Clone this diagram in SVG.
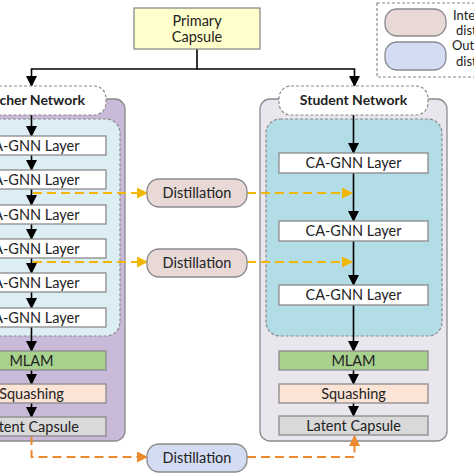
<svg xmlns="http://www.w3.org/2000/svg" width="474" height="474" viewBox="0 0 474 474">
<defs>
<marker id="ab" markerUnits="userSpaceOnUse" markerWidth="11" markerHeight="11" refX="10" refY="5.5" orient="auto"><path d="M0,0 L11,5.5 L0,11 z" fill="#000"/></marker>
<marker id="ay" markerUnits="userSpaceOnUse" markerWidth="11" markerHeight="11" refX="10" refY="5.5" orient="auto"><path d="M0,0 L11,5.5 L0,11 z" fill="#F2B705"/></marker>
<marker id="ao" markerUnits="userSpaceOnUse" markerWidth="11" markerHeight="11" refX="10" refY="5.5" orient="auto"><path d="M0,0 L11,5.5 L0,11 z" fill="#EC8A2E"/></marker>
</defs>
<style>
text{font-family:Lato,"Liberation Sans",sans-serif;font-size:14.5px;fill:#222;text-anchor:middle}
.hdr{font-weight:bold;font-size:14px}
.lg{text-anchor:start;font-size:13px}
.box{stroke:#8a8a8a;stroke-width:1.3}
.layer{fill:#fff;stroke:#8a8a8a;stroke-width:1.3}
.dash{stroke:#8a8a8a;stroke-width:1.2;stroke-dasharray:3 2}
.blk{fill:none;stroke:#000;stroke-width:1.6}
.yel{fill:none;stroke:#F2B705;stroke-width:2;stroke-dasharray:9 5}
.org{fill:none;stroke:#EC8A2E;stroke-width:2;stroke-dasharray:9 5}
</style>
<rect width="474" height="474" fill="#fff"/>

<g id="legend">
<rect x="377" y="3" width="120" height="74" fill="#fff" class="dash"/>
<rect x="385" y="9" width="61" height="27" rx="12" fill="#E8D9D7" class="box"/>
<rect x="385" y="42" width="61" height="28" rx="12" fill="#D3DCF3" class="box"/>
<text class="lg" x="453" y="20">Intermediate</text>
<text class="lg" x="456" y="35">distillation</text>
<text class="lg" x="452" y="50">Output</text>
<text class="lg" x="456" y="66">distillation</text>
</g>

<g id="teacher-outer"><rect x="-62" y="99" width="187" height="342" rx="10" fill="#C8BAD8" class="box"/></g>
<g id="teacher-inner"><rect x="-56" y="119" width="176" height="217" rx="14" fill="#DCEEF4" class="dash"/></g>
<g id="student-outer"><rect x="260" y="99" width="187" height="342" rx="10" fill="#EAE6EE" class="box"/></g>
<g id="student-inner"><rect x="266" y="119" width="176" height="217" rx="14" fill="#B2DCE6" class="dash"/></g>

<g id="connectors">
<path class="blk" d="M197,49 V69 H31.5 V86" marker-end="url(#ab)"/>
<path class="blk" d="M197,69 H354.5 V86" marker-end="url(#ab)"/>
<path class="blk" d="M31.5,115 V136" marker-end="url(#ab)"/>
<path class="blk" d="M31.5,155 V170" marker-end="url(#ab)"/>
<path class="blk" d="M31.5,189 V205" marker-end="url(#ab)"/>
<path class="blk" d="M31.5,224 V239" marker-end="url(#ab)"/>
<path class="blk" d="M31.5,258 V273" marker-end="url(#ab)"/>
<path class="blk" d="M31.5,292 V308" marker-end="url(#ab)"/>
<path class="blk" d="M31.5,327 V351" marker-end="url(#ab)"/>
<path class="blk" d="M31.5,370 V384" marker-end="url(#ab)"/>
<path class="blk" d="M31.5,403 V417" marker-end="url(#ab)"/>
<path class="blk" d="M353.5,115 V153" marker-end="url(#ab)"/>
<path class="blk" d="M353.5,173 V221" marker-end="url(#ab)"/>
<path class="blk" d="M353.5,241 V285" marker-end="url(#ab)"/>
<path class="blk" d="M353.5,305 V351" marker-end="url(#ab)"/>
<path class="blk" d="M353.5,370 V384" marker-end="url(#ab)"/>
<path class="blk" d="M353.5,403 V416" marker-end="url(#ab)"/>
<path class="yel" d="M33,193 H147" marker-end="url(#ay)"/>
<path class="yel" d="M247,193 H352" marker-end="url(#ay)"/>
<path class="yel" d="M33,262 H147" marker-end="url(#ay)"/>
<path class="yel" d="M247,262 H352" marker-end="url(#ay)"/>
<path class="org" d="M31.5,436 V457 H147" marker-end="url(#ao)"/>
<path class="org" d="M247,457 H354.5 V436" marker-end="url(#ao)"/>
</g>

<g id="primary-capsule">
<rect x="134" y="8" width="126" height="41" fill="#FFFFCC" class="box"/>
<text x="197" y="26">Primary</text>
<text x="197" y="42">Capsule</text>
</g>

<g id="teacher-header"><rect x="-43" y="86" width="149" height="29" rx="12" fill="#fff" class="dash"/><text class="hdr" x="31.5" y="105">Teacher Network</text></g>
<g id="student-header"><rect x="279" y="86" width="149" height="29" rx="12" fill="#fff" class="dash"/><text class="hdr" x="353.5" y="105">Student Network</text></g>

<g id="t-layer1"><rect x="-43" y="136" width="149" height="19" class="layer"/><text x="31.5" y="150.5">CA-GNN Layer</text></g>
<g id="t-layer2"><rect x="-43" y="170" width="149" height="19" class="layer"/><text x="31.5" y="184.5">CA-GNN Layer</text></g>
<g id="t-layer3"><rect x="-43" y="205" width="149" height="19" class="layer"/><text x="31.5" y="219.5">CA-GNN Layer</text></g>
<g id="t-layer4"><rect x="-43" y="239" width="149" height="19" class="layer"/><text x="31.5" y="253.5">CA-GNN Layer</text></g>
<g id="t-layer5"><rect x="-43" y="273" width="149" height="19" class="layer"/><text x="31.5" y="287.5">CA-GNN Layer</text></g>
<g id="t-layer6"><rect x="-43" y="308" width="149" height="19" class="layer"/><text x="31.5" y="322.5">CA-GNN Layer</text></g>
<g id="t-mlam"><rect x="-43" y="351" width="149" height="19" fill="#A9D18E" class="box"/><text x="31.5" y="365.5">MLAM</text></g>
<g id="t-squash"><rect x="-43" y="384" width="149" height="19" fill="#FBE3D6" class="box"/><text x="31.5" y="398.5">Squashing</text></g>
<g id="t-latent"><rect x="-43" y="417" width="149" height="19" fill="#D9D9D9" class="box"/><text x="31.5" y="431.5">Latent Capsule</text></g>

<g id="s-layer1"><rect x="279" y="153" width="149" height="20" class="layer"/><text x="353.5" y="168">CA-GNN Layer</text></g>
<g id="s-layer2"><rect x="279" y="221" width="149" height="20" class="layer"/><text x="353.5" y="236">CA-GNN Layer</text></g>
<g id="s-layer3"><rect x="279" y="285" width="149" height="20" class="layer"/><text x="353.5" y="300">CA-GNN Layer</text></g>
<g id="s-mlam"><rect x="279" y="351" width="149" height="19" fill="#A9D18E" class="box"/><text x="353.5" y="365.5">MLAM</text></g>
<g id="s-squash"><rect x="279" y="384" width="149" height="19" fill="#FBE3D6" class="box"/><text x="353.5" y="398.5">Squashing</text></g>
<g id="s-latent"><rect x="279" y="416" width="149" height="19" fill="#D9D9D9" class="box"/><text x="353.5" y="430.5">Latent Capsule</text></g>

<g id="distill1"><rect x="147" y="179" width="100" height="28" rx="12" fill="#E8D9D7" class="box"/><text x="197" y="198">Distillation</text></g>
<g id="distill2"><rect x="147" y="249" width="100" height="28" rx="12" fill="#E8D9D7" class="box"/><text x="197" y="268">Distillation</text></g>
<g id="distill3"><rect x="147" y="444" width="100" height="28" rx="12" fill="#D3DCF3" class="box"/><text x="197" y="463">Distillation</text></g>
</svg>
